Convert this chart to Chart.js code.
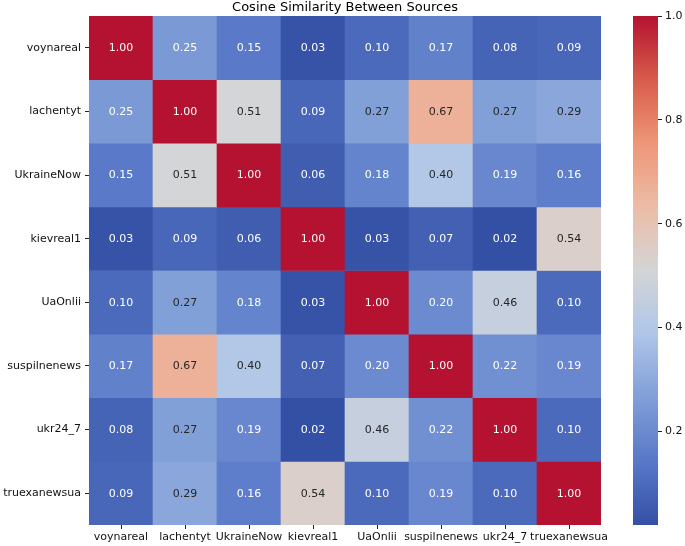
<!DOCTYPE html>
<html>
<head>
<meta charset="utf-8">
<script src="https://cdn.jsdelivr.net/npm/chart.js@4"></script>
<style>
  body { margin: 0; background: #fff; }
  #heat { position: absolute; left: 0; top: 0; }
  #bar { position: absolute; left: 600px; top: 0; }
</style>
</head>
<body>
<canvas id="heat" width="615" height="546"></canvas>
<canvas id="bar" width="85" height="546"></canvas>
<script>
// fontes / dados
const FONTE = '"DejaVu Sans", sans-serif';

const titulo = 'Cosine Similarity Between Sources';
const fontes = ['voynareal', 'lachentyt', 'UkraineNow', 'kievreal1', 'UaOnlii', 'suspilnenews', 'ukr24_7', 'truexanewsua'];

const linhaVoynareal = [1.00, 0.25, 0.15, 0.03, 0.10, 0.17, 0.08, 0.09];
const linhaLachentyt = [0.25, 1.00, 0.51, 0.09, 0.27, 0.67, 0.27, 0.29];
const linhaUkraineNow = [0.15, 0.51, 1.00, 0.06, 0.18, 0.40, 0.19, 0.16];
const linhaKievreal1 = [0.03, 0.09, 0.06, 1.00, 0.03, 0.07, 0.02, 0.54];
const linhaUaOnlii = [0.10, 0.27, 0.18, 0.03, 1.00, 0.20, 0.46, 0.10];
const linhaSuspilnenews = [0.17, 0.67, 0.40, 0.07, 0.20, 1.00, 0.22, 0.19];
const linhaUkr247 = [0.08, 0.27, 0.19, 0.02, 0.46, 0.22, 1.00, 0.10];
const linhaTruexanewsua = [0.09, 0.29, 0.16, 0.54, 0.10, 0.19, 0.10, 1.00];

const matriz = [linhaVoynareal, linhaLachentyt, linhaUkraineNow, linhaKievreal1,
    linhaUaOnlii, linhaSuspilnenews, linhaUkr247, linhaTruexanewsua];

const vmin = 0.02;
const vmax = 1.0;
const ticksBarra = [0.2, 0.4, 0.6, 0.8, 1.0];

// coolwarm (um pouco apagado, como na imagem)
const paradas = [
    [52, 80, 165], [88, 120, 200], [128, 158, 215], [175, 198, 232], [212, 213, 214],
    [236, 188, 166], [238, 150, 120], [215, 92, 75], [180, 18, 48]
];

function corDe(v) {
    let t = (v - vmin) / (vmax - vmin);
    t = Math.max(0, Math.min(1, t));
    const pos = t * (paradas.length - 1);
    const i = Math.min(Math.floor(pos), paradas.length - 2);
    const f = pos - i;
    const a = paradas[i], b = paradas[i + 1];
    const c = a.map((x, k) => Math.round(x + (b[k] - x) * f));
    return `rgb(${c[0]},${c[1]},${c[2]})`;
}

function corTexto(v) {
    return (v >= 0.26 && v < 0.9) ? '#262626' : '#ffffff';
}

// rotulos das celulas + titulo
const rotulosCelulas = {
    id: 'rotulosCelulas',
    afterDatasetsDraw(chart) {
        const ctx = chart.ctx;
        ctx.save();
        ctx.font = '11px ' + FONTE;
        ctx.textAlign = 'center';
        ctx.textBaseline = 'middle';
        chart.data.datasets.forEach((ds, r) => {
            chart.getDatasetMeta(r).data.forEach((barra, c) => {
                const v = matriz[r][c];
                const p = barra.getCenterPoint();
                ctx.fillStyle = corTexto(v);
                ctx.fillText(v.toFixed(2), p.x, p.y + 0.5);
            });
        });
        const area = chart.chartArea;
        ctx.fillStyle = '#000';
        ctx.font = '13px ' + FONTE;
        ctx.fillText(titulo, (area.left + area.right) / 2, 8);
        ctx.restore();
    }
};

const datasets = matriz.map((linha, r) => ({
    label: fontes[r],
    data: linha.map(() => [r - 0.5, r + 0.5]),
    backgroundColor: linha.map(v => corDe(v)),
    borderWidth: 0,
    grouped: false,
    barPercentage: 1,
    categoryPercentage: 1
}));

new Chart(document.getElementById('heat').getContext('2d'), {
    type: 'bar',
    data: { labels: fontes, datasets: datasets },
    options: {
        responsive: false,
        animation: false,
        layout: { padding: { top: 16, left: 0, right: 14, bottom: 0 } },
        plugins: { legend: { display: false }, tooltip: { enabled: false } },
        scales: {
            x: {
                afterFit: s => { s.height = 21; },
                grid: { display: true, drawOnChartArea: false, offset: false, tickLength: 4, tickColor: '#222' },
                border: { display: false },
                ticks: { autoSkip: false, maxRotation: 0, minRotation: 0, padding: 2, color: '#111', font: { family: FONTE, size: 11 } }
            },
            y: {
                type: 'linear',
                min: -0.5,
                max: 7.5,
                reverse: true,
                afterFit: s => { s.width = 89; },
                afterBuildTicks: s => { s.ticks = fontes.map((_, i) => ({ value: i })); },
                grid: { display: true, drawOnChartArea: false, tickLength: 4, tickColor: '#222' },
                border: { display: false },
                ticks: { autoSkip: false, padding: 4, color: '#111', font: { family: FONTE, size: 11 },
                    callback: v => fontes[v] }
            }
        }
    },
    plugins: [rotulosCelulas]
});

// barra de cores
function gradiente(context) {
    const chart = context.chart;
    const area = chart.chartArea;
    if (!area) return corDe(vmax);
    const y = chart.scales.y;
    const g = chart.ctx.createLinearGradient(0, y.getPixelForValue(vmin), 0, y.getPixelForValue(vmax));
    paradas.forEach((p, i) => g.addColorStop(i / (paradas.length - 1), `rgb(${p[0]},${p[1]},${p[2]})`));
    return g;
}

new Chart(document.getElementById('bar').getContext('2d'), {
    type: 'bar',
    data: {
        labels: [''],
        datasets: [{ data: [[vmin, vmax]], backgroundColor: gradiente, borderWidth: 0, barPercentage: 1, categoryPercentage: 1 }]
    },
    options: {
        responsive: false,
        animation: false,
        layout: { padding: { top: 16, left: 33, right: 0, bottom: 21 } },
        plugins: { legend: { display: false }, tooltip: { enabled: false } },
        scales: {
            x: { display: false },
            y: {
                position: 'right',
                min: vmin,
                max: vmax,
                afterFit: s => { s.width = 27; },
                afterBuildTicks: s => { s.ticks = ticksBarra.map(v => ({ value: v })); },
                grid: { display: true, drawOnChartArea: false, tickLength: 4, tickColor: '#222' },
                border: { display: false },
                ticks: { padding: 3, color: '#111', font: { family: FONTE, size: 11 }, callback: v => v.toFixed(1) }
            }
        }
    }
});
</script>
</body>
</html>
